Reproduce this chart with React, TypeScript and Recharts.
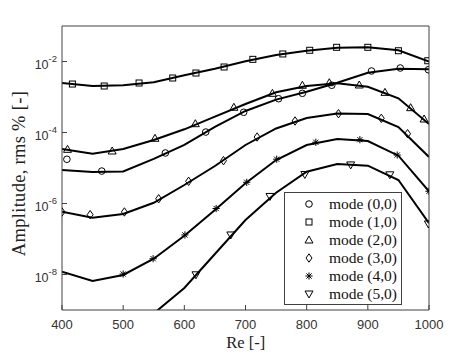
import React from 'react';
import { ComposedChart, Line, Scatter, XAxis, YAxis, Legend, Label } from 'recharts';

// Line (model) values at Re = 400..1000 step 50
const RE = [400, 450, 500, 550, 600, 650, 700, 750, 800, 850, 900, 950, 1000];
const L0 = [8.8e-6, 7.7e-6, 8.0e-6, 1.8e-5, 4.45e-5, 1.43e-4, 4.04e-4, 8.45e-4, 1.41e-3, 2.53e-3, 4.84e-3, 6.27e-3, 6.03e-3];
const L1 = [2.48e-3, 2.04e-3, 2.14e-3, 2.6e-3, 4.08e-3, 6.27e-3, 1.01e-2, 1.52e-2, 2.01e-2, 2.45e-2, 2.51e-2, 2.07e-2, 9.9e-3];
const L2 = [3.43e-5, 2.53e-5, 3.43e-5, 6.15e-5, 1.23e-4, 2.79e-4, 6.35e-4, 1.36e-3, 2.04e-3, 2.43e-3, 1.95e-3, 9.18e-4, 1.73e-4];
const L3 = [5.87e-7, 3.98e-7, 5.06e-7, 1.05e-6, 3.32e-6, 1.14e-5, 4.45e-5, 1.3e-4, 2.56e-4, 3.43e-4, 3.32e-4, 1.43e-4, 2.04e-5];
const L4 = [1.2e-8, 6.56e-9, 9.68e-9, 2.79e-8, 1.24e-7, 6.56e-7, 3.71e-6, 1.68e-5, 4.45e-5, 6.56e-5, 5.77e-5, 2.22e-5, 2.21e-6];
const L5 = [null, null, null, 8e-10, 4.17e-9, 3.78e-8, 3.43e-7, 2.01e-6, 7.87e-6, 1.3e-5, 1.16e-5, 4.59e-6, 2.77e-7];

// Marker (measured) values
const S0_RE = [408, 465, 569, 635, 697, 754, 793, 841, 906, 953, 999];
const S0_V = [1.76e-5, 8.2e-6, 2.65e-5, 1.03e-4, 3.71e-4, 8.95e-4, 1.27e-3, 2.14e-3, 5.4e-3, 6.56e-3, 5.87e-3];
const S1_RE = [417, 469, 526, 581, 619, 665, 712, 761, 805, 849, 900, 950, 998];
const S1_V = [2.32e-3, 2.04e-3, 2.48e-3, 3.43e-3, 4.74e-3, 7.0e-3, 1.15e-2, 1.63e-2, 2.07e-2, 2.51e-2, 2.51e-2, 2.01e-2, 1.05e-2];
const S2_RE = [409, 482, 552, 618, 681, 744, 793, 837, 886, 928, 970, 992];
const S2_V = [3.36e-5, 3.01e-5, 6.87e-5, 1.77e-4, 5.13e-4, 1.27e-3, 2.14e-3, 2.53e-3, 2.18e-3, 1.35e-3, 5.0e-4, 2.4e-4];
const S3_RE = [400, 446, 502, 558, 607, 664, 719, 781, 852, 922, 965];
const S3_V = [5.77e-7, 4.84e-7, 5.77e-7, 1.36e-6, 4.22e-6, 1.61e-5, 7.46e-5, 2.11e-4, 3.39e-4, 2.51e-4, 9.24e-5];
const S4_RE = [500, 549, 601, 652, 702, 751, 815, 887, 948, 1000];
const S4_V = [1.03e-8, 2.79e-8, 1.3e-7, 7.23e-7, 3.95e-6, 1.77e-5, 5.3e-5, 6.27e-5, 2.32e-5, 2.21e-6];
const S5_RE = [619, 676, 740, 797, 872, 936, 999];
const S5_V = [9.8e-9, 1.3e-7, 1.58e-6, 6.56e-6, 1.22e-5, 6.43e-6, 2.65e-7];

const X_TICKS = [400, 500, 600, 700, 800, 900, 1000];
const Y_TICKS = [1e-8, 1e-6, 1e-4, 1e-2];
const LEGEND_LABELS = ['mode (0,0)', 'mode (1,0)', 'mode (2,0)', 'mode (3,0)', 'mode (4,0)', 'mode (5,0)'];

const table = RE.map((re, i) => ({ re, l0: L0[i], l1: L1[i], l2: L2[i], l3: L3[i], l4: L4[i], l5: L5[i] }));
const pts = (xs: number[], vs: number[]) => xs.map((re, i) => ({ re, v: vs[i] }));

const AX = '#404040';
const SANS = '"Liberation Sans", Arial, sans-serif';
const SERIF = '"Liberation Serif", "Times New Roman", serif';

type P = { cx?: number; cy?: number };
const MCircle = ({ cx = 0, cy = 0 }: P) => <circle cx={cx} cy={cy} r={3.3} fill="none" stroke="#000" strokeWidth={1} />;
const MSquare = ({ cx = 0, cy = 0 }: P) => <rect x={cx - 3} y={cy - 3} width={6} height={6} fill="none" stroke="#000" strokeWidth={1} />;
const MTriUp = ({ cx = 0, cy = 0 }: P) => (
  <polygon points={`${cx},${cy - 4} ${cx + 4},${cy + 3} ${cx - 4},${cy + 3}`} fill="none" stroke="#000" strokeWidth={1} />
);
const MDiamond = ({ cx = 0, cy = 0 }: P) => (
  <polygon points={`${cx},${cy - 4.2} ${cx + 3},${cy} ${cx},${cy + 4.2} ${cx - 3},${cy}`} fill="none" stroke="#000" strokeWidth={1} />
);
const MStar = ({ cx = 0, cy = 0 }: P) => {
  const r = 3.6;
  const d = r * 0.72;
  return (
    <g stroke="#000" strokeWidth={1}>
      <line x1={cx - r} y1={cy} x2={cx + r} y2={cy} />
      <line x1={cx} y1={cy - r} x2={cx} y2={cy + r} />
      <line x1={cx - d} y1={cy - d} x2={cx + d} y2={cy + d} />
      <line x1={cx - d} y1={cy + d} x2={cx + d} y2={cy - d} />
    </g>
  );
};
const MTriDown = ({ cx = 0, cy = 0 }: P) => (
  <polygon points={`${cx - 4},${cy - 3} ${cx + 4},${cy - 3} ${cx},${cy + 4}`} fill="none" stroke="#000" strokeWidth={1} />
);

const MARKERS = [MCircle, MSquare, MTriUp, MDiamond, MStar, MTriDown];

const YTick = (props: any) => {
  const { x, y, payload } = props;
  const exp = Math.round(Math.log10(payload.value));
  return (
    <text x={x} y={y + 7} textAnchor="end" fill="#333" fontFamily={SANS} fontSize={12.5}>
      <tspan>10</tspan>
      <tspan dy={-6.5} fontSize={9.5}>{String(exp)}</tspan>
    </text>
  );
};

const LegendBox = () => (
  <div
    style={{
      width: 118,
      height: 113,
      border: `1px solid ${AX}`,
      background: '#fff',
      boxSizing: 'border-box',
      position: 'relative',
      fontFamily: SERIF,
      fontSize: 15.5,
      color: '#111',
    }}
  >
    {LEGEND_LABELS.map((lab, i) => {
      const M = MARKERS[i];
      const cy = 10.6 + 18 * i;
      return (
        <div key={lab} style={{ position: 'absolute', left: 0, top: cy - 9, height: 18, width: 116 }}>
          <svg width={14} height={14} style={{ position: 'absolute', left: 17, top: 2 }}>
            <M cx={7} cy={7} />
          </svg>
          <span style={{ position: 'absolute', left: 44, top: 0, lineHeight: '18px', whiteSpace: 'nowrap' }}>{lab}</span>
        </div>
      );
    })}
  </div>
);

const SERIES = [
  { k: 'l0', s: pts(S0_RE, S0_V) },
  { k: 'l1', s: pts(S1_RE, S1_V) },
  { k: 'l2', s: pts(S2_RE, S2_V) },
  { k: 'l3', s: pts(S3_RE, S3_V) },
  { k: 'l4', s: pts(S4_RE, S4_V) },
  { k: 'l5', s: pts(S5_RE, S5_V) },
];

export default function App() {
  return (
    <div style={{ position: 'absolute', left: 0, top: 0, background: '#fff' }}>
      <ComposedChart width={474} height={355} data={table} margin={{ top: 25, right: 44, bottom: 15, left: 12 }}>
        <XAxis
          xAxisId={0}
          dataKey="re"
          type="number"
          domain={[400, 1000]}
          allowDataOverflow
          ticks={X_TICKS}
          interval={0}
          height={30}
          tickSize={-5}
          tickMargin={15}
          stroke={AX}
          tick={{ fill: '#333', fontSize: 13, fontFamily: SANS }}
        >
          <Label
            content={() => (
              <text x={245.7} y={348} textAnchor="middle" fontFamily={SERIF} fontSize={16.5} fill="#222">
                Re [-]
              </text>
            )}
          />
        </XAxis>
        <XAxis
          xAxisId="top"
          orientation="top"
          type="number"
          domain={[400, 1000]}
          allowDataOverflow
          ticks={X_TICKS}
          interval={0}
          height={1}
          tickSize={-5}
          tick={false}
          stroke={AX}
        />
        <YAxis
          yAxisId={0}
          type="number"
          scale="log"
          domain={[1e-9, 1e-1]}
          allowDataOverflow
          ticks={Y_TICKS}
          interval={0}
          width={50}
          tickSize={-5}
          tickMargin={10}
          stroke={AX}
          tick={<YTick />}
        >
          <Label
            content={() => (
              <text
                x={18.5}
                y={173.5}
                transform="rotate(-90 18.5 173.5)"
                textAnchor="middle"
                dominantBaseline="central"
                fontFamily={SERIF}
                fontSize={18.5}
                letterSpacing={0.3}
                fill="#222"
              >
                Amplitude, rms % [-]
              </text>
            )}
          />
        </YAxis>
        <YAxis
          yAxisId="right"
          orientation="right"
          type="number"
          scale="log"
          domain={[1e-9, 1e-1]}
          allowDataOverflow
          ticks={Y_TICKS}
          interval={0}
          width={1}
          tickSize={-5}
          tick={false}
          stroke={AX}
        />
        {SERIES.map(({ k }) => (
          <Line
            key={k}
            dataKey={k}
            type="linear"
            stroke="#000"
            strokeWidth={2}
            dot={false}
            activeDot={false}
            isAnimationActive={false}
            connectNulls={false}
            legendType="none"
          />
        ))}
        {SERIES.map(({ k, s }, i) => {
          const M = MARKERS[i];
          return (
            <Scatter
              key={'s' + k}
              data={s}
              dataKey="v"
              isAnimationActive={false}
              shape={(p: any) => <M cx={p.cx} cy={p.cy} />}
            />
          );
        })}
        <Legend
          layout="horizontal"
          verticalAlign="middle"
          align="center"
          content={() => <LegendBox />}
          wrapperStyle={{ left: 284, top: 192, width: 118, height: 113 }}
        />
      </ComposedChart>
    </div>
  );
}
